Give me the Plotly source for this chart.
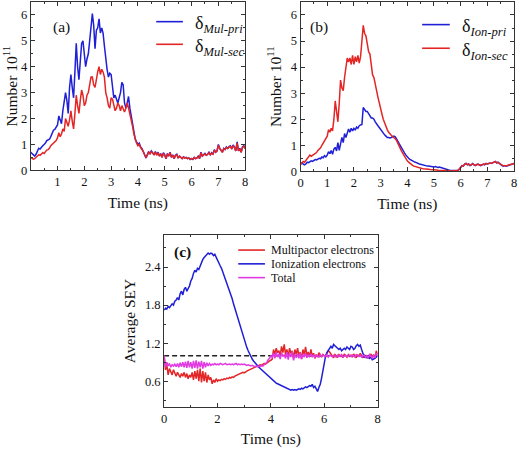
import plotly.graph_objects as go

W, H = 520, 452
t = [round(i * 0.05, 2) for i in range(161)]

# (a) multipactor electrons, number (x 1e11)
mul_pri = [
    0.70, 0.65, 0.58, 0.55, 0.62, 0.75, 0.85, 0.82, 0.90, 0.95,
    1.00, 1.05, 1.15, 1.18, 1.20, 1.30, 1.45, 1.55, 1.58, 1.65,
    1.75, 2.10, 1.95, 1.80, 2.30, 2.60, 3.00, 2.70, 2.20, 3.20,
    3.70, 3.20, 2.80, 3.80, 4.90, 4.00, 3.50, 4.20, 4.90, 5.00,
    4.40, 4.00, 4.30, 4.50, 5.00, 5.50, 6.05, 5.60, 4.70, 5.40,
    5.50, 5.85, 5.30, 5.50, 5.30, 4.80, 4.20, 3.90, 3.60, 3.75,
    3.70, 3.20, 2.80, 2.90, 2.70, 2.60, 2.80, 3.00, 3.40, 3.30,
    2.60, 2.40, 2.60, 2.85, 2.40, 2.00, 1.80, 1.50, 1.20, 1.10,
    1.00, 1.05, 0.90, 0.85, 0.75, 0.60, 0.48, 0.60, 0.72, 0.65,
    0.75, 0.68, 0.62, 0.72, 0.60, 0.70, 0.55, 0.65, 0.50, 0.68,
    0.60, 0.45, 0.65, 0.55, 0.70, 0.50, 0.60, 0.45, 0.58, 0.62,
    0.48, 0.55, 0.50, 0.45, 0.52, 0.48, 0.50, 0.45, 0.48, 0.42,
    0.45, 0.42, 0.50, 0.45, 0.48, 0.55, 0.45, 0.70, 0.55, 0.60,
    0.65, 0.58, 0.62, 0.70, 0.60, 0.68, 0.62, 0.80, 0.70, 0.75,
    1.00, 0.85, 0.78, 0.70, 0.85, 0.80, 0.90, 0.85, 0.92, 0.95,
    0.82, 0.98, 0.90, 0.75, 1.10, 0.75, 0.85, 0.70, 0.90, 0.95,
    0.85,
]
mul_sec = [
    0.50, 0.45, 0.43, 0.45, 0.50, 0.55, 0.60, 0.58, 0.62, 0.68,
    0.65, 0.72, 0.78, 0.80, 0.85, 0.95, 1.00, 1.05, 1.10, 1.15,
    1.25, 1.45, 1.30, 1.40, 1.60, 1.50, 2.00, 1.80, 1.70, 1.95,
    2.30, 1.90, 1.60, 2.20, 2.90, 2.50, 2.20, 2.70, 3.10, 2.90,
    2.50, 2.60, 2.90, 3.00, 3.30, 3.60, 3.60, 3.30, 3.20, 3.60,
    3.80, 4.00, 3.70, 3.90, 3.80, 3.60, 3.00, 2.80, 2.50, 2.40,
    2.80, 2.75, 2.50, 2.30, 2.40, 2.60, 2.50, 2.30, 2.50, 2.40,
    2.25, 2.40, 2.60, 2.40, 2.20, 1.90, 1.70, 1.40, 1.20, 1.05,
    0.95, 1.00, 0.88, 0.82, 0.72, 0.60, 0.50, 0.58, 0.70, 0.64,
    0.72, 0.66, 0.60, 0.70, 0.58, 0.68, 0.55, 0.63, 0.50, 0.66,
    0.58, 0.46, 0.63, 0.55, 0.68, 0.50, 0.58, 0.46, 0.57, 0.60,
    0.48, 0.54, 0.50, 0.46, 0.51, 0.47, 0.49, 0.45, 0.47, 0.43,
    0.45, 0.43, 0.49, 0.45, 0.47, 0.54, 0.46, 0.68, 0.55, 0.59,
    0.63, 0.58, 0.61, 0.68, 0.60, 0.66, 0.62, 0.78, 0.70, 0.74,
    0.97, 0.84, 0.77, 0.70, 0.83, 0.80, 0.88, 0.84, 0.90, 0.93,
    0.82, 0.95, 0.88, 0.75, 1.05, 0.75, 0.83, 0.70, 0.88, 0.93,
    0.84,
]

# (b) ionization electrons, number (x 1e11)
ion_pri = [
    0.30, 0.32, 0.28, 0.25, 0.28, 0.35, 0.33, 0.38, 0.40, 0.38,
    0.42, 0.45, 0.44, 0.48, 0.50, 0.48, 0.55, 0.52, 0.60, 0.55,
    0.62, 0.75, 0.68, 0.80, 0.65, 0.85, 0.92, 0.78, 1.10, 0.80,
    1.00, 1.30, 1.10, 1.45, 1.30, 1.50, 1.62, 1.50, 1.65, 1.55,
    1.65, 1.58, 1.70, 1.65, 1.75, 1.78, 1.80, 2.45, 2.35, 2.30,
    2.30, 2.20, 2.15, 2.05, 2.05, 2.00, 1.90, 1.80, 1.75, 1.68,
    1.60, 1.52, 1.45, 1.40, 1.35, 1.30, 1.30, 1.28, 1.30, 1.32,
    1.35, 1.32, 1.25, 1.15, 1.05, 0.95, 0.85, 0.78, 0.70, 0.62,
    0.55, 0.50, 0.46, 0.42, 0.40, 0.37, 0.35, 0.32, 0.30, 0.28,
    0.27, 0.25, 0.24, 0.22, 0.21, 0.20, 0.20, 0.19, 0.18, 0.18,
    0.17, 0.18, 0.16, 0.15, 0.16, 0.14, 0.12, 0.12, 0.10, 0.08,
    0.06, 0.05, 0.04, 0.04, 0.03, 0.03, 0.02, 0.04, 0.03, 0.08,
    0.15, 0.22, 0.20, 0.28, 0.30, 0.25, 0.28, 0.22, 0.25, 0.30,
    0.25, 0.22, 0.26, 0.28, 0.24, 0.22, 0.25, 0.28, 0.25, 0.30,
    0.28, 0.30, 0.32, 0.30, 0.34, 0.35, 0.38, 0.32, 0.35, 0.30,
    0.28, 0.22, 0.20, 0.22, 0.20, 0.22, 0.25, 0.24, 0.27, 0.28,
    0.30,
]
ion_sec = [
    0.25, 0.30, 0.38, 0.35, 0.42, 0.45, 0.55, 0.62, 0.58, 0.62,
    0.65, 0.70, 0.72, 0.80, 0.85, 0.90, 1.00, 1.10, 1.15, 1.25,
    1.35, 1.60, 1.50, 1.65, 1.55, 2.00, 2.70, 2.30, 1.90, 2.60,
    3.50, 3.20, 3.10, 3.60, 3.90, 4.35, 4.20, 4.35, 4.10, 4.45,
    4.10, 4.40, 4.20, 4.45, 4.15, 4.40, 5.00, 5.60, 5.30, 5.20,
    4.90, 4.60, 4.50, 4.00, 3.70, 3.60, 3.40, 3.10, 2.85, 2.60,
    2.40, 2.20, 2.00, 1.85, 1.70, 1.60, 1.50, 1.42, 1.38, 1.33,
    1.30, 1.25, 1.18, 1.05, 0.95, 0.85, 0.75, 0.65, 0.55, 0.48,
    0.40, 0.35, 0.30, 0.26, 0.23, 0.20, 0.18, 0.16, 0.14, 0.13,
    0.12, 0.11, 0.10, 0.10, 0.09, 0.08, 0.08, 0.07, 0.07, 0.06,
    0.06, 0.05, 0.05, 0.04, 0.04, 0.03, 0.03, 0.03, 0.02, 0.02,
    0.02, 0.02, 0.01, 0.01, 0.01, 0.01, 0.02, 0.03, 0.04, 0.08,
    0.14, 0.22, 0.21, 0.27, 0.30, 0.26, 0.27, 0.23, 0.25, 0.29,
    0.26, 0.23, 0.25, 0.27, 0.25, 0.23, 0.25, 0.27, 0.26, 0.29,
    0.29, 0.31, 0.31, 0.31, 0.33, 0.36, 0.37, 0.33, 0.34, 0.30,
    0.27, 0.23, 0.21, 0.21, 0.21, 0.22, 0.24, 0.25, 0.26, 0.28,
    0.30,
]

# (c) average SEY
sey_mul = [
    1.00, 0.78, 0.86, 0.70, 0.80, 0.75, 0.70, 0.78, 0.72, 0.68,
    0.74, 0.70, 0.66, 0.72, 0.68, 0.74, 0.66, 0.72, 0.64, 0.70,
    0.66, 0.74, 0.62, 0.76, 0.64, 0.78, 0.60, 0.80, 0.58, 0.76,
    0.60, 0.74, 0.58, 0.70, 0.62, 0.66, 0.56, 0.62, 0.58, 0.64,
    0.60, 0.62, 0.61, 0.63, 0.62, 0.64, 0.63, 0.65, 0.64, 0.66,
    0.65, 0.67, 0.66, 0.68, 0.69, 0.70, 0.71, 0.72, 0.72, 0.74,
    0.73, 0.75, 0.76, 0.77, 0.78, 0.79, 0.80, 0.81, 0.82, 0.83,
    0.84, 0.84, 0.86, 0.85, 0.87, 0.88, 0.87, 0.89, 0.90, 0.92,
    0.93, 0.95, 1.10, 1.02, 1.12, 1.05, 1.08, 1.00, 1.15, 1.05,
    1.18, 1.02, 1.10, 0.98, 1.12, 1.04, 1.08, 0.96, 1.10, 1.02,
    1.12, 1.00, 1.06, 0.95, 1.10, 1.02, 1.14, 1.00, 1.06, 0.98,
    1.10, 1.00, 1.04, 0.96, 1.02, 0.98, 1.05, 1.00, 0.98, 1.02,
    1.00, 0.98, 1.04, 1.08, 1.06, 1.02, 1.00, 0.97, 1.02, 1.00,
    0.98, 1.02, 0.99, 1.01, 0.97, 1.03, 1.00, 0.98, 1.02, 0.99,
    1.01, 0.98, 1.03, 1.00, 0.97, 1.02, 0.99, 1.04, 1.00, 0.97,
    1.02, 0.98, 1.01, 0.96, 1.00, 1.03, 0.98, 1.02, 0.96, 1.08,
    1.02,
]
sey_ion = [
    1.72, 1.75, 1.74, 1.78, 1.76, 1.80, 1.82, 1.80, 1.86, 1.88,
    1.92, 1.88, 1.98, 2.02, 1.96, 2.05, 2.08, 2.02, 2.06, 2.10,
    2.18, 2.22, 2.30, 2.35, 2.32, 2.38, 2.36, 2.42, 2.48, 2.52,
    2.55, 2.58, 2.60, 2.62, 2.60, 2.62, 2.61, 2.58, 2.60, 2.55,
    2.50, 2.45, 2.42, 2.38, 2.32, 2.28, 2.22, 2.15, 2.08, 2.02,
    1.95, 1.90, 1.82, 1.75, 1.68, 1.60, 1.52, 1.45, 1.38, 1.32,
    1.25, 1.19, 1.13, 1.08, 1.03, 0.99, 0.95, 0.92, 0.89, 0.86,
    0.84, 0.82, 0.80, 0.78, 0.76, 0.74, 0.72, 0.70, 0.68, 0.66,
    0.64, 0.62, 0.60, 0.59, 0.57, 0.56, 0.55, 0.54, 0.52, 0.51,
    0.50, 0.49, 0.48, 0.47, 0.47, 0.46, 0.47, 0.46, 0.47, 0.46,
    0.47, 0.48, 0.47, 0.49, 0.48, 0.50, 0.51, 0.50, 0.52, 0.53,
    0.52, 0.55, 0.50, 0.52, 0.48, 0.44, 0.50, 0.55, 0.65, 0.78,
    0.90, 1.00, 1.05, 1.08, 1.10, 1.15, 1.12, 1.18, 1.16, 1.13,
    1.12, 1.10, 1.12, 1.08, 1.10, 1.12, 1.10, 1.14, 1.12, 1.10,
    1.15, 1.14, 1.10, 1.12, 1.16, 1.18, 1.15, 1.17, 1.10, 1.05,
    0.98, 1.00, 0.97, 1.00, 0.96, 0.98, 0.94, 0.95, 0.96, 0.98,
    1.00,
]
sey_total = [
    1.00, 0.82, 0.90, 0.84, 0.88, 0.82, 0.86, 0.84, 0.87, 0.83,
    0.88, 0.82, 0.89, 0.83, 0.90, 0.82, 0.91, 0.81, 0.92, 0.82,
    0.90, 0.80, 0.92, 0.81, 0.93, 0.80, 0.91, 0.82, 0.92, 0.80,
    0.90, 0.82, 0.89, 0.84, 0.88, 0.85, 0.87, 0.86, 0.88, 0.86,
    0.87, 0.86, 0.88, 0.87, 0.86, 0.87, 0.88, 0.86, 0.87, 0.87,
    0.86, 0.87, 0.86, 0.87, 0.88, 0.86, 0.87, 0.86, 0.87, 0.86,
    0.87, 0.86, 0.85, 0.86, 0.85, 0.84, 0.85, 0.84, 0.83, 0.84,
    0.83, 0.84, 0.83, 0.85, 0.84, 0.86, 0.88, 0.90, 0.94, 0.96,
    1.00, 0.98, 1.04, 0.96, 1.06, 0.98, 1.03, 0.95, 1.05, 0.99,
    1.02, 0.96, 1.06, 0.94, 1.04, 0.98, 1.07, 0.93, 1.02, 0.97,
    1.03, 0.96, 1.05, 0.95, 1.02, 0.98, 1.04, 0.97, 1.01, 0.99,
    1.03, 0.98, 1.02, 0.97, 1.01, 1.00, 0.98, 1.02, 0.99, 1.01,
    1.00, 0.99, 1.02, 0.98, 1.01, 1.00, 0.99, 1.01, 1.00, 0.98,
    1.01, 0.99, 1.00, 1.02, 0.98, 1.00, 1.01, 0.99, 1.00, 1.01,
    0.99, 1.01, 1.00, 0.98, 1.02, 1.00, 0.99, 1.01, 0.98, 1.00,
    1.01, 0.98, 1.00, 0.97, 1.02, 1.00, 0.96, 1.01, 0.97, 1.04,
    1.00,
]
ref_level = [1.0, 1.0]
ref_t = [0, 8]

BLUE = "#1f1fd6"
RED = "#e42525"
MAG = "#e23ae2"
FONT = "Liberation Serif, Times New Roman, Times, serif"
TXT = "#111111"
LW = 1.5

fig = go.Figure()

def line(x, y, color, name, xa, ya, dash="solid"):
    fig.add_trace(go.Scatter(x=x, y=y, mode="lines", name=name,
                             line=dict(color=color, width=LW, dash=dash),
                             xaxis=xa, yaxis=ya, showlegend=False))

line(t, mul_pri, BLUE, "δ Mul-pri", "x", "y")
line(t, mul_sec, RED, "δ Mul-sec", "x", "y")
line(t, ion_pri, BLUE, "δ Ion-pri", "x2", "y2")
line(t, ion_sec, RED, "δ Ion-sec", "x2", "y2")
line(ref_t, ref_level, "#222222", "ref", "x3", "y3", dash="5px,3px")
line(t, sey_mul, RED, "Multipactor electrons", "x3", "y3")
line(t, sey_ion, BLUE, "Ionization electrons", "x3", "y3")
line(t, sey_total, MAG, "Total", "x3", "y3")

def px_x(p):
    return p / W

def px_y(p):
    return 1 - p / H

axis_common = dict(showline=True, mirror="ticks", linecolor="#333333", linewidth=1,
                   ticks="inside", ticklen=4, tickwidth=1, tickcolor="#333333",
                   showgrid=False, zeroline=False,
                   tickfont=dict(family=FONT, size=12.5, color=TXT),
                   title_font=dict(family=FONT, size=15.5, color=TXT))

fig.update_layout(
    xaxis=dict(domain=[px_x(28), px_x(245)], anchor="y", range=[0, 8],
               tickvals=[1, 2, 3, 4, 5, 6, 7, 8], minor=dict(dtick=0.5, ticks="inside", ticklen=2),
               title=dict(text="Time (ns)", standoff=8), **axis_common),
    yaxis=dict(domain=[px_y(173), px_y(2)], anchor="x", range=[0, 6.5],
               dtick=1, minor=dict(dtick=0.5, ticks="inside", ticklen=2),
               title=dict(text="Number 10<sup>11</sup>", standoff=5), **axis_common),
    xaxis2=dict(domain=[px_x(301), px_x(517)], anchor="y2", range=[0, 8],
                dtick=1, minor=dict(dtick=0.5, ticks="inside", ticklen=2),
                title=dict(text="Time (ns)", standoff=8), **axis_common),
    yaxis2=dict(domain=[px_y(174), px_y(2)], anchor="x2", range=[0, 6.5],
                dtick=1, minor=dict(dtick=0.5, ticks="inside", ticklen=2),
                title=dict(text="Number 10<sup>11</sup>", standoff=5), **axis_common),
    xaxis3=dict(domain=[px_x(163), px_x(379)], anchor="y3", range=[0, 8],
                dtick=2, minor=dict(dtick=1, ticks="inside", ticklen=2),
                title=dict(text="Time (ns)", standoff=8), **axis_common),
    yaxis3=dict(domain=[px_y(413), px_y(239)], anchor="x3", range=[0.2, 2.9],
                tickvals=[0.6, 1.2, 1.8, 2.4], ticktext=["0.6", "1.2", "1.8", "2.4"],
                minor=dict(tickvals=[0.3, 0.9, 1.5, 2.1, 2.7], ticks="inside", ticklen=2),
                title=dict(text="Average SEY", standoff=5), **axis_common),
)

# manual legends (line samples + labels), positioned in paper pixels
legend_rows = [
    # x0, x1, y, color, text, text_x, size
    (155, 182, 22, BLUE, "δ<sub><i>Mul-pri</i></sub>", 192, 18),
    (155, 182, 45, RED, "δ<sub><i>Mul-sec</i></sub>", 192, 18),
    (424, 452, 25, BLUE, "δ<sub><i>Ion-pri</i></sub>", 462, 18),
    (424, 452, 49, RED, "δ<sub><i>Ion-sec</i></sub>", 462, 18),
    (238, 265, 254, RED, "Multipactor electrons", 269, 12),
    (238, 265, 268, BLUE, "Ionization electrons", 269, 12),
    (238, 265, 282, MAG, "Total", 269, 12),
]
shapes = []
annotations = []
for x0, x1, yy, col, txt, tx, sz in legend_rows:
    shapes.append(dict(type="line", xref="paper", yref="paper",
                       x0=px_x(x0), x1=px_x(x1), y0=px_y(yy), y1=px_y(yy),
                       line=dict(color=col, width=1.6)))
    dy = 3 if sz > 14 else 0
    annotations.append(dict(text=txt, x=px_x(tx), y=px_y(yy + dy), xref="paper", yref="paper",
                            xanchor="left", yanchor="middle", showarrow=False,
                            font=dict(family=FONT, size=sz, color=TXT)))

ann_font = dict(family=FONT, size=15.5, color=TXT)
annotations += [
    dict(text="(a)", x=px_x(49), y=px_y(16), xref="paper", yref="paper", showarrow=False, font=ann_font),
    dict(text="(b)", x=px_x(320), y=px_y(16), xref="paper", yref="paper", showarrow=False, font=ann_font),
    dict(text="<b>(c)</b>", x=px_x(182), y=px_y(256), xref="paper", yref="paper", showarrow=False, font=ann_font),
]

fig.update_layout(shapes=shapes, annotations=annotations,
                  width=W, height=H, margin=dict(l=0, r=0, t=0, b=0),
                  paper_bgcolor="white", plot_bgcolor="white", showlegend=False)

fig.write_html("out.html")
